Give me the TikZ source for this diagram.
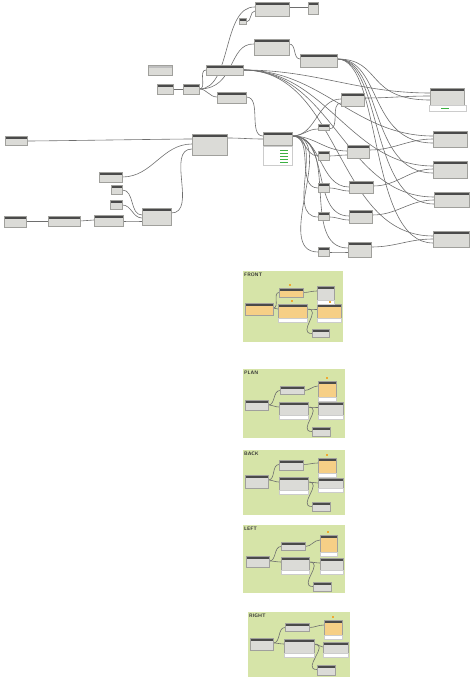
\documentclass[tikz,border=0pt]{standalone}
\usetikzlibrary{calc}
\definecolor{hdr}{HTML}{4A4A4A}
\definecolor{body}{HTML}{DBDBD7}
\definecolor{edge}{HTML}{A0A09C}
\definecolor{grp}{HTML}{D6E4A8}
\definecolor{orng}{HTML}{F6CF86}
\definecolor{orngdot}{HTML}{F0A830}
\definecolor{wirec}{HTML}{6E6E6E}
\definecolor{okgreen}{HTML}{3CB043}
\pgfdeclarelayer{grplayer}
\pgfdeclarelayer{wirelayer}
\pgfsetlayers{grplayer,wirelayer,main}
\tikzset{
  dyn/.style={draw=edge, fill=body, line width=0.3pt, inner sep=0pt, anchor=north west,
    path picture={\fill[hdr] (path picture bounding box.north west) rectangle ([yshift=-3.2pt]path picture bounding box.north east);}},
  lite/.style={path picture={\fill[black!25] (path picture bounding box.north west) rectangle ([yshift=-3.2pt]path picture bounding box.north east);}},
  hot/.style={fill=orng},
  prev/.style={draw=black!20, fill=white, line width=0.3pt, inner sep=0pt, anchor=north west},
  wire/.style={draw=wirec, line width=0.6pt},
  grpbox/.style={fill=grp, draw=none, anchor=north west, inner sep=0pt},
  grplabel/.style={anchor=north west, inner sep=0pt, font=\sffamily\bfseries\fontsize{5}{5}\selectfont, text=black!80},
  okline/.style={draw=okgreen, line width=0.8pt},
}
\newcommand\dn[6][]{\node[dyn,#1,minimum width=#5pt,minimum height=#6pt] (#2) at (#3,#4) {};}
\newcommand\pv[5]{\node[prev,minimum width=#4pt,minimum height=#5pt] (#1) at (#2,#3) {};}
\begin{document}
\begin{tikzpicture}[x=1pt,y=-1pt]
\path[use as bounding box] (0,0) rectangle (474,684);

% ---------------- upper graph: nodes ----------------
\dn{t1}{255}{2}{34}{14}
\dn{t1s}{308}{2}{10}{12}
\dn{t0}{239}{18}{7}{6}
\dn{t2}{254}{39}{35}{16}
\dn{t3}{300}{54}{37}{13}
\dn[lite]{tA}{148}{65}{24}{10}
\dn{t4}{206}{65}{37}{10}
\dn{t5}{157}{84}{16}{10}
\dn{t6}{183}{84}{16}{10}
\dn{t7}{217}{92}{29}{11}
\dn{m1}{341}{93}{23}{13}
\dn{r1}{430}{88}{34}{17}
\pv{r1p}{429}{105}{37}{6}
\dn{s1}{318}{124}{11}{6}
\dn{big}{192}{134}{35}{21}
\dn{w}{263}{132}{29}{13}
\pv{wp}{263}{146}{29}{19}
\dn{l1}{5}{136}{22}{9}
\dn{s2}{318}{151}{11}{9}
\dn{m2}{347}{145}{22}{13}
\dn{r2}{433}{131}{34}{16}
\dn{r3}{433}{161}{34}{17}
\dn{l2}{99}{172}{23}{10}
\dn{s3}{318}{183}{11}{9}
\dn{m3}{349}{181}{24}{12}
\dn{l3}{111}{185}{11}{9}
\dn{r4}{434}{192}{35}{15}
\dn{l4}{110}{200}{12}{9}
\dn{l5}{142}{208}{29}{17}
\dn{s4}{318}{212}{11}{8}
\dn{m4}{349}{210}{23}{13}
\dn{l6}{4}{216}{22}{11}
\dn{l7}{48}{216}{32}{10}
\dn{l8}{94}{215}{29}{11}
\dn{r5}{433}{231}{36}{16}
\dn{s5}{318}{247}{11}{9}
\dn{m5}{348}{242}{23}{15}

% green result marks
\foreach \k in {0,1,2,3,4}{
  \draw[okline] ([xshift=17pt,yshift=-4pt-3pt*\k]wp.north west) -- ++(8,0);
}
\draw[okline] ([xshift=12pt,yshift=-3pt]r1p.north west) -- ++(8,0);

% ---------------- upper graph: wires ----------------
\begin{pgfonlayer}{wirelayer}
\draw[wire] ([yshift=-5pt]l1.north east) to[out=0,in=180,looseness=0.3] ([yshift=-5pt]big.north west);
\draw[wire] ([yshift=-5pt]l2.north east) to[out=0,in=180] ([yshift=-10pt]big.north west);
\draw[wire] ([yshift=-5pt]l5.north east) to[out=0,in=180] ([yshift=-15pt]big.north west);
\draw[wire] ([yshift=-5pt]l3.north east) to[out=0,in=180] ([yshift=-7pt]l5.north west);
\draw[wire] ([yshift=-5pt]l4.north east) to[out=0,in=180] ([yshift=-10pt]l5.north west);
\draw[wire] ([yshift=-6pt]l8.north east) to[out=0,in=180] ([yshift=-13pt]l5.north west);
\draw[wire] ([yshift=-5pt]l7.north east) -- ([yshift=-5pt]l8.north west);
\draw[wire] ([yshift=-5pt]l6.north east) -- ([yshift=-5pt]l7.north west);
\draw[wire] ([yshift=-5pt]t5.north east) -- ([yshift=-5pt]t6.north west);
\draw[wire] ([yshift=-5pt]t6.north east) to[out=0,in=180] ([yshift=-5pt]t4.north west);
\draw[wire] ([yshift=-5pt]t6.north east) to[out=0,in=180] ([yshift=-5pt]t7.north west);
\draw[wire] ([yshift=-5pt]t6.north east) .. controls (232,89) and (222,6) .. ([yshift=-5pt]t1.north west);
\draw[wire] ([yshift=-5pt]t6.north east) .. controls (236,89) and (228,43) .. ([yshift=-5pt]t2.north west);
\draw[wire] ([yshift=-4pt]t0.north east) to[out=0,in=180] ([yshift=-9pt]t1.north west);
\draw[wire] ([yshift=-5pt]t1.north east) -- ([yshift=-5pt]t1s.north west);
\draw[wire] ([yshift=-5pt]t2.north east) to[out=0,in=180] ([yshift=-5pt]t3.north west);
\draw[wire] ([yshift=-4pt]big.north east) to[out=0,in=180] ([yshift=-7pt]w.north west);
\draw[wire] ([yshift=-5pt]t7.north east) .. controls (262,97) and (248,136) .. ([yshift=-4pt]w.north west);
\foreach \r in {r1,r2,r3,r4,r5}{
  \draw[wire] ([yshift=-5pt]t4.north east) to[out=0,in=180] ([yshift=-5pt]\r.north west);
}
\foreach \r in {r1,r2,r3,r4,r5}{
  \draw[wire] ([yshift=-5pt]t3.north east) .. controls +(45,0) and +(-65,0) .. ([yshift=-12pt]\r.north west);
}
\foreach \s in {s1,s2,s3,s4,s5}{
  \draw[wire] ([yshift=-4pt]w.north east) to[out=0,in=180] ([yshift=-5pt]\s.north west);
}
\foreach \m in {m1,m2,m3,m4,m5}{
  \draw[wire] ([yshift=-4pt]w.north east) to[out=0,in=180] ([yshift=-6pt]\m.north west);
}
\foreach \s/\m/\r in {s1/m1/r1,s2/m2/r2,s3/m3/r3,s4/m4/r4,s5/m5/r5}{
  \draw[wire] ([yshift=-5pt]\s.north east) to[out=0,in=180] ([yshift=-10pt]\m.north west);
  \draw[wire] ([yshift=-5pt]\m.north east) to[out=0,in=180] ([yshift=-8pt]\r.north west);
}
\end{pgfonlayer}

% ---------------- groups ----------------
\begin{pgfonlayer}{grplayer}
\node[grpbox,minimum width=100pt,minimum height=71pt] (gF) at (243,271) {};
\node[grpbox,minimum width=102pt,minimum height=69pt] (gP) at (243,369) {};
\node[grpbox,minimum width=102pt,minimum height=65pt] (gB) at (243,450) {};
\node[grpbox,minimum width=102pt,minimum height=68pt] (gL) at (243,525) {};
\node[grpbox,minimum width=102pt,minimum height=65pt] (gR) at (248,612) {};
\end{pgfonlayer}
\node[grplabel] (gFl) at (244,273) {FRONT};
\node[grplabel] (gPl) at (244,371) {PLAN};
\node[grplabel] (gBl) at (244,452) {BACK};
\node[grplabel] (gLl) at (244,527) {LEFT};
\node[grplabel] (gRl) at (249,614) {RIGHT};

% FRONT
\dn[hot]{fl}{245}{303}{28}{12}
\dn[hot]{ft}{279}{288}{24}{9}
\dn[hot]{fm}{278}{304}{29}{14}
\dn{fr}{317}{286}{17}{14}
\dn[hot]{fq}{317}{304}{24}{14}
\dn{fb}{312}{329}{17}{8}
\pv{fmp}{278}{318}{29}{4}
\pv{frp}{317}{300}{17}{4}
\pv{fqp}{317}{318}{24}{4}
\fill[orngdot] (289,284) rectangle (291,285.5);
\fill[orngdot] (291,300) rectangle (293,301.5);
\fill[orngdot] (329,301) rectangle (331,302.5);

% PLAN
\dn{pl}{245}{400}{23}{10}
\dn{pt}{280}{386}{24}{8}
\dn{pm}{279}{402}{29}{13}
\dn[hot]{pr}{318}{381}{18}{16}
\dn{pq}{318}{402}{25}{13}
\dn{pb}{312}{427}{18}{9}
\pv{pmp}{279}{415}{29}{4}
\pv{prp}{318}{397}{18}{4}
\pv{pqp}{318}{415}{25}{4}
\fill[orngdot] (326,377) rectangle (328,378.5);

% BACK
\dn{bl}{245}{475}{23}{13}
\dn{bt}{279}{460}{24}{10}
\dn{bm}{279}{477}{29}{13}
\dn[hot]{br}{318}{458}{18}{15}
\dn{bq}{318}{478}{25}{10}
\dn{bb}{312}{502}{18}{9}
\pv{bmp}{279}{490}{29}{4}
\pv{brp}{318}{473}{18}{4}
\pv{bqp}{318}{488}{25}{4}
\fill[orngdot] (326,454) rectangle (328,455.5);

% LEFT
\dn{el}{246}{556}{23}{11}
\dn{et}{281}{542}{24}{8}
\dn{em}{281}{557}{28}{13}
\dn[hot]{er}{320}{535}{17}{17}
\dn{eq}{320}{558}{23}{12}
\dn{eb}{313}{582}{18}{9}
\pv{emp}{281}{570}{28}{4}
\pv{erp}{320}{552}{17}{4}
\pv{eqp}{320}{570}{23}{4}
\fill[orngdot] (327,531) rectangle (329,532.5);

% RIGHT
\dn{gl}{250}{638}{23}{12}
\dn{gt}{285}{623}{24}{8}
\dn{gm}{284}{639}{30}{14}
\dn[hot]{gr}{324}{620}{18}{15}
\dn{gq}{323}{642}{25}{11}
\dn{gb}{317}{665}{18}{10}
\pv{gmp}{284}{653}{30}{4}
\pv{grp2}{324}{635}{18}{4}
\pv{gqp}{323}{653}{25}{4}
\fill[orngdot] (332,616) rectangle (334,617.5);

% group wires
\begin{pgfonlayer}{wirelayer}
\foreach \L/\T/\M/\R/\Q/\B in {fl/ft/fm/fr/fq/fb, pl/pt/pm/pr/pq/pb, bl/bt/bm/br/bq/bb, el/et/em/er/eq/eb, gl/gt/gm/gr/gq/gb}{
  \draw[wire] ([yshift=-5pt]\L.north east) to[out=0,in=180] ([yshift=-4.5pt]\T.north west);
  \draw[wire] ([yshift=-5pt]\L.north east) to[out=0,in=180] ([yshift=-5pt]\M.north west);
  \draw[wire] ([yshift=-4.5pt]\T.north east) to[out=0,in=180] ([yshift=-5pt]\R.north west);
  \draw[wire] ([yshift=-5pt]\M.north east) to[out=0,in=180] ([yshift=-5pt]\Q.north west);
  \draw[wire] ([yshift=-5pt]\M.north east) to[out=0,in=180,looseness=1.6] ([yshift=-4.5pt]\B.north west);
}
\end{pgfonlayer}
\end{tikzpicture}
\end{document}
